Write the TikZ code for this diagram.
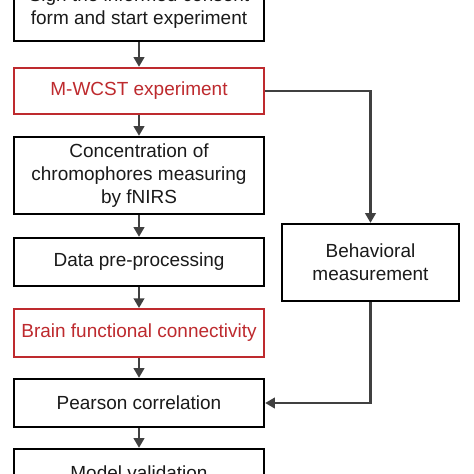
\documentclass[tikz,border=0pt]{standalone}
\usepackage{fontspec}
\setmainfont{Liberation Sans}
\usepackage{xcolor}
\usepackage{tikz}
\usetikzlibrary{arrows.meta,calc,positioning}
\definecolor{flowred}{HTML}{BE2A2E}
\definecolor{flowgray}{HTML}{404040}
\definecolor{flowtext}{HTML}{1A1A1A}
\tikzset{
  stepbox/.style={draw=black,line width=1.6pt,fill=white,text=flowtext,align=center,
    minimum width=6.25cm,minimum height=1.2cm,inner sep=2pt,
    font=\fontsize{13.5}{16.4}\selectfont},
  redbox/.style={stepbox,draw=flowred,text=flowred,line width=1.3pt},
  flowarrow/.style={-{Triangle[length=7pt,width=7.5pt]},line width=1.8pt,flowgray}
}
\begin{document}
\begin{tikzpicture}
  \useasboundingbox (0,0) rectangle (11.85,-11.85);
  \node[stepbox,minimum height=1.625cm] (consent) at (3.475,-0.2125) {Sign the informed consent\\form and start experiment};
  \node[redbox,minimum height=1.15cm] (wcst) at (3.475,-2.27) {M-WCST experiment};
  \node[stepbox,minimum height=1.925cm] (chromo) at (3.475,-4.3875) {Concentration of\\chromophores measuring\\by fNIRS};
  \node[stepbox] (preproc) at (3.475,-6.55) {Data pre-processing};
  \node[redbox] (connect) at (3.475,-8.325) {Brain functional connectivity};
  \node[stepbox] (pearson) at (3.475,-10.075) {Pearson correlation};
  \node[stepbox] (validation) at (3.475,-11.825) {Model validation};
  \node[stepbox,minimum width=4.425cm,minimum height=1.925cm] (behav) at (9.2625,-6.5625) {Behavioral\\measurement};
  \draw[flowarrow] (consent) -- (wcst);
  \draw[flowarrow] (wcst) -- (chromo);
  \draw[flowarrow] (chromo) -- (preproc);
  \draw[flowarrow] (preproc) -- (connect);
  \draw[flowarrow] (connect) -- (pearson);
  \draw[flowarrow] (pearson) -- (validation);
  \draw[flowarrow] (wcst.east) -| (behav.north);
  \draw[flowarrow] (behav.south) |- (pearson.east);
\end{tikzpicture}
\end{document}
